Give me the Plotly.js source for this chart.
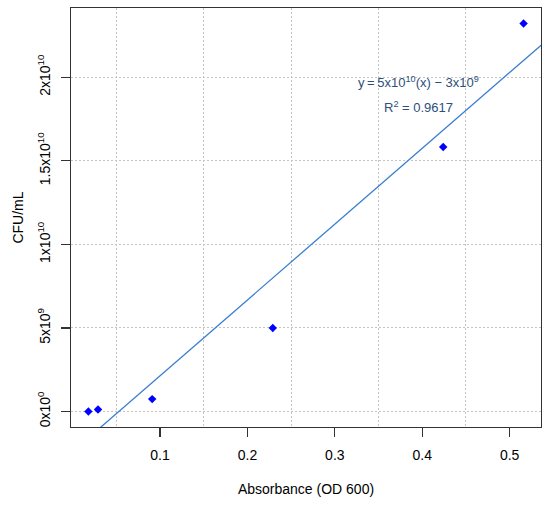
<!DOCTYPE html>
<html>
<head>
<meta charset="utf-8">
<script src="https://cdn.plot.ly/plotly-3.0.1.min.js"></script>
<style>html,body{margin:0;padding:0;background:#fff;}#chart{width:550px;height:505px;}</style>
</head>
<body>
<div id="chart"></div>
<script>
// Data
var absorbance = [0.018, 0.029, 0.091, 0.229, 0.424, 0.516];
var cfu = [0, 1.2e8, 7.4e8, 5.0e9, 1.583e10, 2.322e10];

// Tick labels
var yTickVals = [0, 5e9, 1e10, 1.5e10, 2e10];
var yTickText = ['0x10<sup>0</sup>', '5x10<sup>9</sup>', '1x10<sup>10</sup>', '1.5x10<sup>10</sup>', '2x10<sup>10</sup>'];
var xTickVals = [0.1, 0.2, 0.3, 0.4, 0.5];
var xTickText = ['0.1', '0.2', '0.3', '0.4', '0.5'];

var eqText = 'y\u2009=\u20095x10<sup>10</sup>(x) \u2212 3x10<sup>9</sup>';
var r2Text = 'R<sup>2</sup> = 0.9617';

// R-style axis ranges (data range +/- 4%)
function rRange(a) {
  var mn = Math.min.apply(null, a), mx = Math.max.apply(null, a), d = (mx - mn) * 0.04;
  return [mn - d, mx + d];
}
var xr = rRange(absorbance), yr = rRange(cfu);

// least squares fit
var n = absorbance.length, mx = 0, my = 0;
for (var i = 0; i < n; i++) { mx += absorbance[i]; my += cfu[i]; }
mx /= n; my /= n;
var sxy = 0, sxx = 0;
for (i = 0; i < n; i++) { sxy += (absorbance[i] - mx) * (cfu[i] - my); sxx += (absorbance[i] - mx) * (absorbance[i] - mx); }
var slope = sxy / sxx, intercept = my - slope * mx;
var fitX = [xr[0] - 0.05, xr[1] + 0.05];
var fitY = fitX.map(function (x) { return slope * x + intercept; });

var font = 'Liberation Sans, Arial, sans-serif';
var gridDash = '1.5px,2.5px';

var traces = [
  { x: fitX, y: fitY, mode: 'lines', type: 'scatter', line: { color: '#3a7fd0', width: 1.3 }, hoverinfo: 'skip', showlegend: false },
  { x: absorbance, y: cfu, mode: 'markers', type: 'scatter', marker: { symbol: 'diamond', size: 6.5, color: '#0000ff' }, showlegend: false }
];

var layout = {
  width: 550, height: 505,
  margin: { l: 71, r: 9, t: 8, b: 78 },
  paper_bgcolor: '#fff', plot_bgcolor: '#fff',
  font: { family: font, size: 14, color: '#000' },
  xaxis: {
    range: xr, tickmode: 'array', tickvals: xTickVals, ticktext: xTickText,
    ticks: 'outside', ticklen: 9, tickcolor: '#333', tickwidth: 1.2, ticklabelstandoff: 6,
    showgrid: false, zeroline: false, showline: true, mirror: true, linecolor: '#333', linewidth: 1.3,
    title: { text: 'Absorbance (OD 600)', standoff: 22, font: { family: font, size: 14 } },
    tickfont: { family: font, size: 14 }
  },
  xaxis2: {
    overlaying: 'x', range: xr, tickmode: 'linear', tick0: 0.05, dtick: 0.1,
    showticklabels: false, ticks: '', showline: false, zeroline: false,
    showgrid: true, gridcolor: '#c4c4c4', griddash: gridDash, gridwidth: 1
  },
  yaxis: {
    range: yr, tickmode: 'array', tickvals: yTickVals, ticktext: yTickText, tickangle: -90,
    ticks: 'outside', ticklen: 9, tickcolor: '#333', tickwidth: 1.2, ticklabelstandoff: 5,
    showgrid: true, gridcolor: '#c4c4c4', griddash: gridDash, gridwidth: 1,
    zeroline: false, showline: true, mirror: true, linecolor: '#333', linewidth: 1.3,
    title: { text: 'CFU/mL', standoff: 8, font: { family: font, size: 14 } },
    tickfont: { family: font, size: 14 }
  },
  annotations: [
    { x: 0.396, y: 1.97e10, xref: 'x', yref: 'y', text: eqText, showarrow: false, font: { family: font, size: 13, color: '#2d4f7c' }, xanchor: 'center', yanchor: 'middle' },
    { x: 0.396, y: 1.82e10, xref: 'x', yref: 'y', text: r2Text, showarrow: false, font: { family: font, size: 13, color: '#2d4f7c' }, xanchor: 'center', yanchor: 'middle' }
  ]
};

// invisible trace so the offset vertical grid (xaxis2) is drawn
traces.push({ x: [xr[0]], y: [yr[0]], xaxis: 'x2', mode: 'markers', marker: { opacity: 0 }, hoverinfo: 'skip', showlegend: false });

Plotly.newPlot('chart', traces, layout, { displayModeBar: false, staticPlot: true });
</script>
</body>
</html>
